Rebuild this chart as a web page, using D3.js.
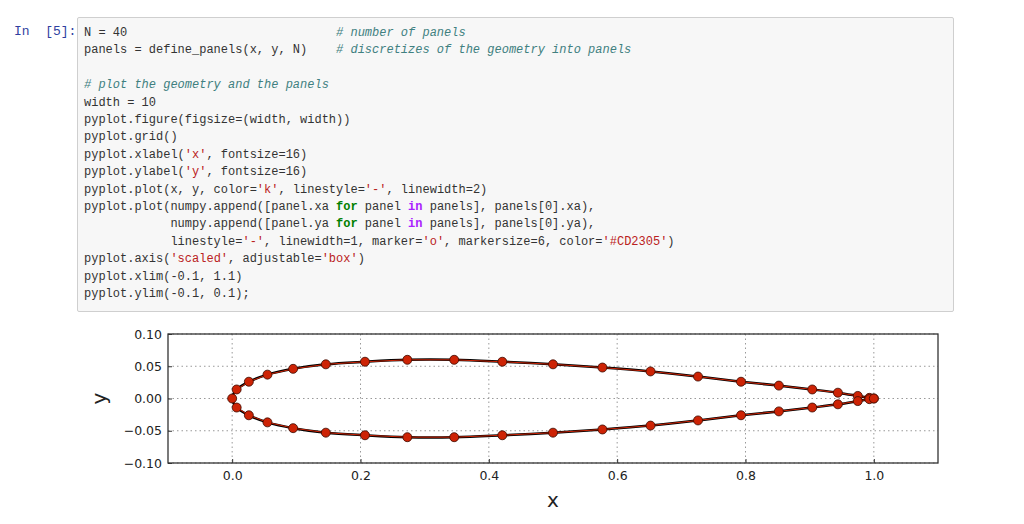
<!DOCTYPE html>
<html><head><meta charset="utf-8">
<script src="https://cdn.jsdelivr.net/npm/d3@7"></script>
<style>
body{margin:0;background:#fff;width:1024px;height:524px;overflow:hidden;position:relative;font-family:"Liberation Mono",monospace}
.prompt{position:absolute;left:14px;top:24px;color:#303F9F;font-size:13px;font-family:"Liberation Mono",monospace}
.cell{position:absolute;left:77px;top:17px;width:875px;height:293px;background:#f7f7f7;border:1px solid #cfcfcf;border-radius:2px}
pre{margin:0;position:absolute;left:6px;top:7px;font-size:12px;line-height:17.4px;color:#333;font-family:"Liberation Mono",monospace}
.c{color:#408080;font-style:italic}.s{color:#BA2121}.k{color:#008000;font-weight:bold}.o{color:#AA22FF;font-weight:bold}
svg{position:absolute;left:0;top:0}
</style></head><body>
<div class="prompt">In&nbsp;&nbsp;[5]:</div>
<div class="cell"><pre>N = 40                             <span class="c"># number of panels</span>
panels = define_panels(x, y, N)    <span class="c"># discretizes of the geometry into panels</span>

<span class="c"># plot the geometry and the panels</span>
width = 10
pyplot.figure(figsize=(width, width))
pyplot.grid()
pyplot.xlabel(<span class="s">'x'</span>, fontsize=16)
pyplot.ylabel(<span class="s">'y'</span>, fontsize=16)
pyplot.plot(x, y, color=<span class="s">'k'</span>, linestyle=<span class="s">'-'</span>, linewidth=2)
pyplot.plot(numpy.append([panel.xa <span class="k">for</span> panel <span class="o">in</span> panels], panels[0].xa),
            numpy.append([panel.ya <span class="k">for</span> panel <span class="o">in</span> panels], panels[0].ya),
            linestyle=<span class="s">'-'</span>, linewidth=1, marker=<span class="s">'o'</span>, markersize=6, color=<span class="s">'#CD2305'</span>)
pyplot.axis(<span class="s">'scaled'</span>, adjustable=<span class="s">'box'</span>)
pyplot.xlim(-0.1, 1.1)
pyplot.ylim(-0.1, 0.1);</pre></div>
<svg id="chart" width="1024" height="524"></svg>
<script>
// panel end points, trailing edge -> leading edge (upper)
const upperX = [1.0, 0.993, 0.975, 0.944, 0.904, 0.852, 0.793, 0.726, 0.652, 0.577, 0.500, 0.421, 0.346, 0.273, 0.207, 0.146, 0.095, 0.055, 0.026, 0.007, 0.0];
const upperY = [0.0, 0.001, 0.004, 0.009, 0.014, 0.020, 0.026, 0.034, 0.042, 0.048, 0.053, 0.057, 0.060, 0.060, 0.057, 0.053, 0.046, 0.037, 0.026, 0.014, 0.0];
const xTicks = [0.0, 0.2, 0.4, 0.6, 0.8, 1.0];
const yTicks = [-0.10, -0.05, 0.00, 0.05, 0.10];

// closed contour: upper surface then lower surface back to trailing edge
const pts = upperX.map((x, i) => ({x, y: upperY[i]}));
for (let i = upperX.length - 2; i >= 0; i--) pts.push({x: upperX[i], y: -upperY[i]});

const margin = {left: 168, top: 334, right: 938, bottom: 463};
const svg = d3.select("#chart");
const x = d3.scaleLinear().domain([-0.1, 1.1]).range([margin.left, margin.right]);
const y = d3.scaleLinear().domain([-0.1, 0.1]).range([margin.bottom, margin.top]);

// grid
svg.append("g").selectAll("line").data(xTicks).join("line")
  .attr("x1", d => x(d)).attr("x2", d => x(d)).attr("y1", margin.top).attr("y2", margin.bottom)
  .attr("stroke", "#999").attr("stroke-dasharray", "1.5,3").attr("stroke-width", 1);
svg.append("g").selectAll("line").data(yTicks).join("line")
  .attr("y1", d => y(d)).attr("y2", d => y(d)).attr("x1", margin.left).attr("x2", margin.right)
  .attr("stroke", "#999").attr("stroke-dasharray", "1.5,3").attr("stroke-width", 1);

// axes
const fmtX = d3.format(".1f"), fmtY = d => d3.format(".2f")(d).replace("-", "\u2212");
const ax = svg.append("g").attr("transform", `translate(0,${margin.bottom})`)
  .call(d3.axisBottom(x).tickValues(xTicks).tickFormat(fmtX).tickSizeInner(-4).tickSizeOuter(0).tickPadding(8));
const ay = svg.append("g").attr("transform", `translate(${margin.left},0)`)
  .call(d3.axisLeft(y).tickValues(yTicks).tickFormat(fmtY).tickSizeInner(-4).tickSizeOuter(0).tickPadding(6));
[ax, ay].forEach(g => {
  g.select(".domain").remove();
  g.selectAll("text").attr("font-family", "DejaVu Sans").attr("font-size", 12.5).attr("fill", "#222");
  g.selectAll("line").attr("stroke", "#333");
});
svg.append("rect").attr("x", margin.left).attr("y", margin.top)
  .attr("width", margin.right - margin.left).attr("height", margin.bottom - margin.top)
  .attr("fill", "none").attr("stroke", "#333").attr("stroke-width", 1.3);

// geometry and panels
const line = d3.line().x(d => x(d.x)).y(d => y(d.y));
svg.append("path").attr("d", line.curve(d3.curveCatmullRom)(pts)).attr("fill", "none")
  .attr("stroke", "#000").attr("stroke-width", 2.5);
svg.append("path").attr("d", line.curve(d3.curveLinear)(pts)).attr("fill", "none")
  .attr("stroke", "#CD2305").attr("stroke-width", 1);
svg.append("g").selectAll("circle").data(pts).join("circle")
  .attr("cx", d => x(d.x)).attr("cy", d => y(d.y)).attr("r", 4.5)
  .attr("fill", "#CD2305").attr("stroke", "#3a0a00").attr("stroke-width", 0.8);

// labels
svg.append("text").attr("x", (margin.left + margin.right) / 2).attr("y", 507).attr("text-anchor", "middle")
  .attr("font-family", "DejaVu Sans").attr("font-size", 20).attr("fill", "#222").text("x");
svg.append("text").attr("transform", `translate(106,${(margin.top + margin.bottom) / 2}) rotate(-90)`)
  .attr("text-anchor", "middle").attr("font-family", "DejaVu Sans").attr("font-size", 20).attr("fill", "#222").text("y");
</script>
</body></html>
